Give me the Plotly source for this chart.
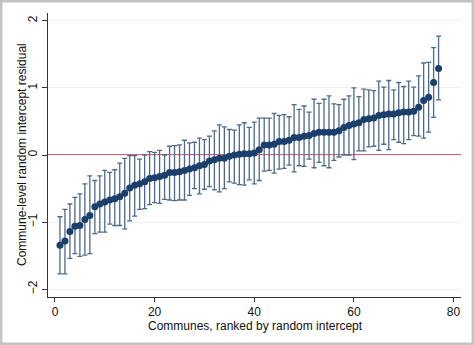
import plotly.graph_objects as go

rank = list(range(1, 78))
est = [-1.345, -1.28, -1.14, -1.06, -1.05, -0.96, -0.90, -0.77, -0.73, -0.70,
       -0.67, -0.65, -0.62, -0.57, -0.49, -0.45, -0.43, -0.40, -0.35, -0.34,
       -0.32, -0.30, -0.26, -0.26, -0.25, -0.23, -0.21, -0.19, -0.16, -0.14,
       -0.09, -0.07, -0.05, -0.05, -0.02, 0.0, 0.01, 0.02, 0.02, 0.03,
       0.08, 0.15, 0.15, 0.16, 0.20, 0.20, 0.22, 0.26, 0.26, 0.28,
       0.29, 0.32, 0.34, 0.34, 0.34, 0.34, 0.36, 0.41, 0.44, 0.46,
       0.48, 0.53, 0.54, 0.55, 0.59, 0.60, 0.61, 0.61, 0.63, 0.64,
       0.64, 0.65, 0.71, 0.81, 0.86, 1.08, 1.29]
upper = [-0.92, -0.81, -0.73, -0.63, -0.58, -0.43, -0.31, -0.38, -0.31, -0.23,
         -0.26, -0.22, -0.12, -0.05, -0.01, -0.01, -0.06, 0.0, 0.05, 0.04,
         0.07, 0.0, 0.13, 0.14, 0.15, 0.22, 0.18, 0.19, 0.25, 0.23,
         0.28, 0.36, 0.45, 0.42, 0.38, 0.37, 0.45, 0.48, 0.41, 0.49,
         0.55, 0.55, 0.55, 0.62, 0.59, 0.60, 0.57, 0.75, 0.68, 0.73,
         0.64, 0.83, 0.77, 0.83, 0.88, 0.76, 0.75, 0.83, 0.88, 1.00,
         0.87, 0.98, 0.97, 0.96, 1.10, 1.01, 1.11, 0.97, 1.08, 1.02,
         1.10, 1.01, 1.18, 1.37, 1.38, 1.60, 1.77]
lower = [-1.77, -1.77, -1.54, -1.47, -1.51, -1.49, -1.47, -1.17, -1.15, -1.15,
         -1.03, -1.05, -1.05, -1.10, -0.98, -0.91, -0.81, -0.80, -0.74, -0.71,
         -0.72, -0.66, -0.67, -0.68, -0.67, -0.67, -0.60, -0.50, -0.58, -0.51,
         -0.47, -0.52, -0.55, -0.50, -0.40, -0.42, -0.44, -0.45, -0.37, -0.43,
         -0.38, -0.24, -0.23, -0.27, -0.21, -0.20, -0.15, -0.25, -0.16, -0.17,
         -0.06, -0.19, -0.11, -0.16, -0.19, -0.08, -0.03, 0.0, 0.0, -0.07,
         0.06, 0.06, 0.12, 0.13, 0.07, 0.16, 0.08, 0.23, 0.19, 0.17,
         0.23, 0.29, 0.28, 0.25, 0.34, 0.56, 0.82]

x_ticks = [0, 20, 40, 60, 80]
y_ticks = [-2, -1, 0, 1, 2]
x_title = "Communes, ranked by random intercept"
y_title = "Commune-level random intercept residual"

err_plus = [u - e for u, e in zip(upper, est)]
err_minus = [e - l for e, l in zip(est, lower)]

W, H = 474, 345
ml, mr, mt, mb = 48, 13, 13, 48
pw, ph = W - ml - mr, H - mt - mb

fig = go.Figure()
fig.add_trace(go.Scatter(
    x=rank, y=est, mode="markers",
    marker=dict(color="#1a3f6b", size=7),
    error_y=dict(type="data", array=err_plus, arrayminus=err_minus,
                 color="#4f6a88", thickness=1.3, width=2.5),
    showlegend=False,
))

fig.add_hline(y=0, line=dict(color="#cc2a4c", width=1.4), layer="below")

fig.add_shape(type="rect", xref="paper", yref="paper",
              x0=-(ml - 1.2) / pw, x1=1 + (mr - 1.2) / pw,
              y0=-(mb - 1.2) / ph, y1=1 + (mt - 1.2) / ph,
              line=dict(color="#c4c4c4", width=2.5), layer="below")

fig.add_annotation(text=x_title, xref="paper", yref="paper",
                   x=(255 - ml) / pw, y=-(326 - (mt + ph)) / ph,
                   xanchor="center", yanchor="middle", showarrow=False,
                   font=dict(size=12))
fig.add_annotation(text=y_title, xref="paper", yref="paper",
                   x=-(ml - 22) / pw, y=(mt + ph - 155) / ph,
                   xanchor="center", yanchor="middle", showarrow=False,
                   textangle=-90, font=dict(size=12))

fig.update_layout(
    width=W, height=H,
    margin=dict(l=ml, r=mr, t=mt, b=mb),
    paper_bgcolor="white", plot_bgcolor="white",
    font=dict(family="Liberation Sans, Arial, sans-serif", size=12, color="#111111"),
)
fig.update_xaxes(
    range=[-1.4, 81.5], tickvals=x_ticks, showgrid=False, zeroline=False,
    showline=True, linecolor="#333333", linewidth=1,
    ticks="outside", ticklen=4, tickcolor="#333333",
)
fig.update_yaxes(
    range=[-2.115, 2.115], tickvals=y_ticks, tickangle=-90,
    showgrid=True, gridcolor="#edf1f3", gridwidth=1, zeroline=False,
    showline=True, linecolor="#333333", linewidth=1,
    ticks="outside", ticklen=5, tickcolor="#333333",
)

fig.write_html("out.html")
